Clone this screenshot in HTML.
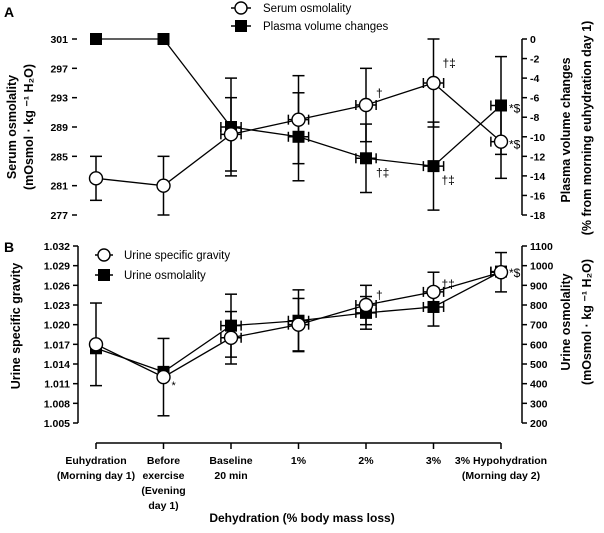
<!DOCTYPE html>
<html><head><meta charset="utf-8"><style>
body{margin:0;background:#fff;}
svg text{font-family:"Liberation Sans",sans-serif;fill:#000;}
</style></head><body>
<svg id="chart" width="604" height="528" viewBox="0 0 604 528" xmlns="http://www.w3.org/2000/svg"></svg>
<script>
const categories=["Euhydration|(Morning day 1)","Before|exercise|(Evening|day 1)","Baseline|20 min","1%","2%","3%","3% Hypohydration|(Morning day 2)"];
const serumOsm=[282,281,288,290,292,295,287];
const serumSd=[3,4,5,6,5,6,5];
const plasmaVol=[0,0,-9,-10,-12.2,-13,-6.8];
const plasmaSd=[0,0,5,4.5,3.5,4.5,5];
const usg=[1.017,1.012,1.018,1.020,1.023,1.025,1.028];
const usgSd=[0.0063,0.0059,0.004,0.004,0.003,0.003,0.003];
const uosm=[580,460,695,720,760,790,970];
const uosmSd=[0,0,160,157,83,97,0];
const xErr=[0,0,0.15,0.15,0.15,0.15,0.15];
const serumTicks=[277,281,285,289,293,297,301];
const pvTicks=[0,-2,-4,-6,-8,-10,-12,-14,-16,-18];
const usgTicks=[1.005,1.008,1.011,1.014,1.017,1.020,1.023,1.026,1.029,1.032];
const uosmTicks=[200,300,400,500,600,700,800,900,1000,1100];

const svg=document.getElementById('chart');
const NS="http://www.w3.org/2000/svg";
const RX=522;
function mk(tag,attrs,parent){const e=document.createElementNS(NS,tag);for(const k in attrs)e.setAttribute(k,attrs[k]);(parent||svg).appendChild(e);return e;}
const STEP=67.5;
const x=i=>96+i*STEP;
const yS=v=>39+(301-v)/24*176;
const yPV=v=>39+(0-v)/18*176;
const yU=v=>246+(1.032-v)/0.027*177;
const yO=v=>246+(1100-v)/900*177;

function txt(s,xx,yy,opts,name){const t=mk('text',Object.assign({x:xx,y:yy,'font-size':11},opts||{}));t.textContent=s;


return t;}
function line(x1,y1,x2,y2,name,w){const l=mk('line',{x1,y1,x2,y2,stroke:'#000','stroke-width':w||1.5});


return l;}

// Panel A axes
txt('A',4,17,{'font-size':14,'font-weight':'bold'},'panel-a-label');
serumTicks.forEach(v=>{line(72,yS(v),77,yS(v),'serum-tick');txt(String(v),68,yS(v)+4,{'text-anchor':'end','font-weight':'bold','font-size':10.5},'serum-tick-label');});
line(RX,39,RX,215,'pv-axis');
pvTicks.forEach(v=>{line(RX,yPV(v),RX+5,yPV(v),'pv-tick');txt(String(v),RX+8,yPV(v)+4,{'font-weight':'bold','font-size':10.5},'pv-tick-label');});
txt('Serum osmolality',0,0,{transform:'translate(16,127) rotate(-90)','text-anchor':'middle','font-size':12.5,'font-weight':'bold'},'serum-axis-title');
txt('(mOsmol · kg ⁻¹ H₂O)',0,0,{transform:'translate(33,127) rotate(-90)','text-anchor':'middle','font-size':12.5,'font-weight':'bold'},'serum-axis-units');
txt('Plasma volume changes',0,0,{transform:'translate(570,130) rotate(-90)','text-anchor':'middle','font-size':12.5,'font-weight':'bold'},'pv-axis-title');
txt('(% from morning euhydration day 1)',0,0,{transform:'translate(591,128) rotate(-90)','text-anchor':'middle','font-size':12.5,'font-weight':'bold'},'pv-axis-units');

function series(vals,sds,yf,filled,name){
  vals.forEach((v,i)=>{
    if(sds[i]>0){line(x(i),yf(v-sds[i]),x(i),yf(v+sds[i]),name+'-errorbar');
      line(x(i)-6,yf(v-sds[i]),x(i)+6,yf(v-sds[i]),name+'-errorcap');
      line(x(i)-6,yf(v+sds[i]),x(i)+6,yf(v+sds[i]),name+'-errorcap');}
    if(xErr[i]>0){const d=xErr[i]*STEP;const last=i===vals.length-1;
      line(x(i)-d,yf(v),last?x(i):x(i)+d,yf(v),name+'-xerror');
      line(x(i)-d,yf(v)-5,x(i)-d,yf(v)+5,name+'-xcap');
      if(!last)line(x(i)+d,yf(v)-5,x(i)+d,yf(v)+5,name+'-xcap');}
  });
  const p=mk('polyline',{points:vals.map((v,i)=>x(i)+','+yf(v)).join(' '),fill:'none',stroke:'#000','stroke-width':1.3});
  
  
  vals.forEach((v,i)=>{let m;
    if(filled)m=mk('rect',{x:x(i)-6,y:yf(v)-6,width:12,height:12,fill:'#000'});
    else m=mk('circle',{cx:x(i),cy:yf(v),r:6.5,fill:'#fff',stroke:'#000','stroke-width':1.4});
    
    
  });
}
series(plasmaVol,plasmaSd,yPV,true,'plasma-volume');
series(serumOsm,serumSd,yS,false,'serum-osmolality');

line(231,8,251,8,'legend-serum-line');mk('circle',{cx:241,cy:8,r:6,fill:'#fff',stroke:'#000','stroke-width':1.4});
txt('Serum osmolality',263,12,{'font-size':11.5},'legend-serum-text');
line(231,26,251,26,'legend-pv-line');mk('rect',{x:235,y:20,width:12,height:12,fill:'#000'});
txt('Plasma volume changes',263,30,{'font-size':11.5},'legend-pv-text');

txt('†',x(4)+10,yS(292)-8,{'font-size':12},'sig-mark');
txt('†‡',x(5)+9,yS(295)-16,{'font-size':12},'sig-mark');
txt('*$',x(6)+8,yS(287)+7,{'font-size':12,'font-family':'Liberation Serif'},'sig-mark');
txt('*$',x(6)+8,yPV(-6.8)+7,{'font-size':12,'font-family':'Liberation Serif'},'sig-mark');
txt('†‡',x(4)+10,yPV(-12.2)+18,{'font-size':12},'sig-mark');
txt('†‡',x(5)+8,yPV(-13)+18,{'font-size':12},'sig-mark');

// Panel B axes
txt('B',4,252,{'font-size':14,'font-weight':'bold'},'panel-b-label');
line(78,246,78,423,'usg-axis');
usgTicks.forEach(v=>{line(73,yU(v),78,yU(v),'usg-tick');txt(v.toFixed(3),70,yU(v)+4,{'text-anchor':'end','font-weight':'bold','font-size':10.5},'usg-tick-label');});
line(RX,246,RX,423,'uosm-axis');
uosmTicks.forEach(v=>{line(RX,yO(v),RX+5,yO(v),'uosm-tick');txt(String(v),RX+8,yO(v)+4,{'font-weight':'bold','font-size':10.5},'uosm-tick-label');});
txt('Urine specific gravity',0,0,{transform:'translate(20,326) rotate(-90)','text-anchor':'middle','font-size':12.5,'font-weight':'bold'},'usg-axis-title');
txt('Urine osmolality',0,0,{transform:'translate(570,322) rotate(-90)','text-anchor':'middle','font-size':12.5,'font-weight':'bold'},'uosm-axis-title');
txt('(mOsmol · kg ⁻¹ H₂O)',0,0,{transform:'translate(591,322) rotate(-90)','text-anchor':'middle','font-size':12.5,'font-weight':'bold'},'uosm-axis-units');

series(uosm,uosmSd,yO,true,'urine-osmolality');
series(usg,usgSd,yU,false,'urine-specific-gravity');

line(95,255,113,255,'legend-usg-line');mk('circle',{cx:104,cy:255,r:6,fill:'#fff',stroke:'#000','stroke-width':1.4});
txt('Urine specific gravity',124,259,{'font-size':11.5},'legend-usg-text');
line(95,275,113,275,'legend-uosm-line');mk('rect',{x:98,y:269,width:12,height:12,fill:'#000'});
txt('Urine osmolality',124,279,{'font-size':11.5},'legend-uosm-text');

txt('*',x(1)+8,yU(1.012)+12,{'font-size':11},'sig-mark');
txt('†',x(4)+10,yU(1.023)-6,{'font-size':12},'sig-mark');
txt('†‡',x(5)+8,yU(1.025)-4,{'font-size':12},'sig-mark');
txt('*$',x(6)+8,yU(1.028)+5,{'font-size':12,'font-family':'Liberation Serif'},'sig-mark');

// x axis
line(96,443,x(6),443,'x-axis');
categories.forEach((c,i)=>{line(x(i),443,x(i),449,'x-tick');
  c.split('|').forEach((s,k)=>txt(s,x(i),464+k*15,{'text-anchor':'middle','font-size':10.5,'font-weight':'bold'},'x-tick-label'));});
txt('Dehydration (% body mass loss)',302,522,{'text-anchor':'middle','font-size':12,'font-weight':'bold'},'x-axis-title');
</script>
</body></html>
